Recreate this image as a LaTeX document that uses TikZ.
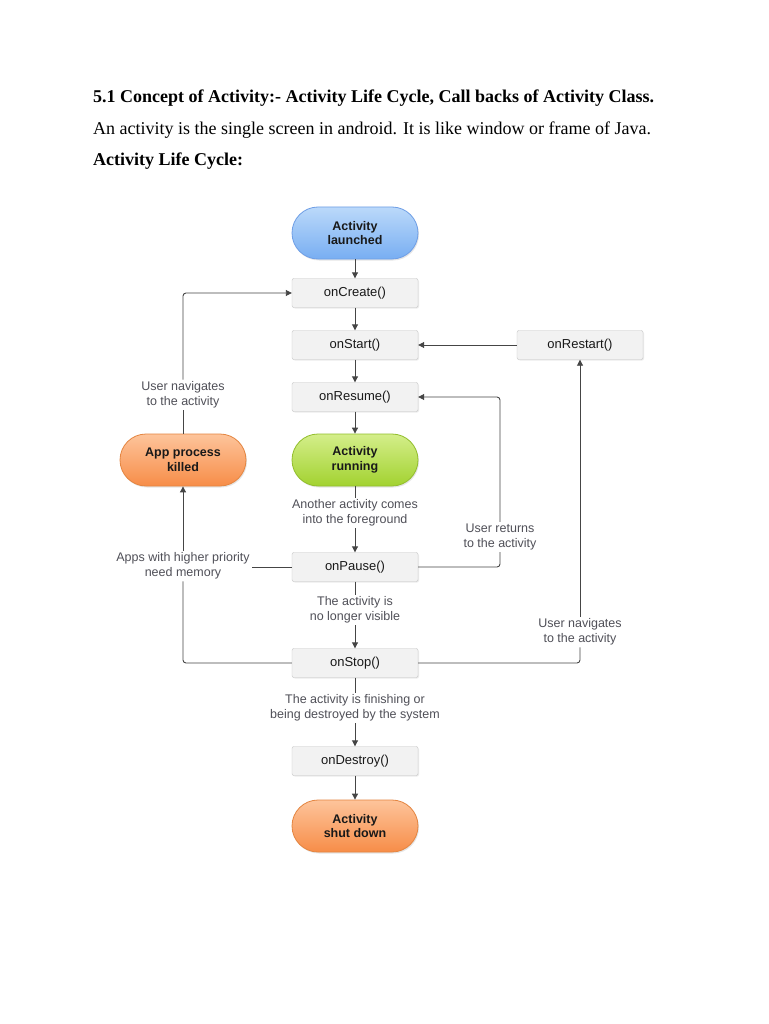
\documentclass[tikz,border=0pt]{standalone}
\usepackage{fontspec}
\setmainfont{Liberation Serif}
\newfontfamily\dfont{Liberation Sans}
\usetikzlibrary{arrows.meta,shadows}
\definecolor{linec}{HTML}{454545}
\definecolor{labc}{HTML}{505058}
\definecolor{boxf}{HTML}{F2F2F2}
\definecolor{boxd}{HTML}{C4C4C4}
\definecolor{blued}{HTML}{6E9EE6}
\definecolor{bluet}{HTML}{BBD9FA}
\definecolor{blueb}{HTML}{78AEF2}
\definecolor{greend}{HTML}{92BE2C}
\definecolor{greent}{HTML}{D4EE8A}
\definecolor{greenb}{HTML}{A2D230}
\definecolor{oranged}{HTML}{E48540}
\definecolor{oranget}{HTML}{FDC49B}
\definecolor{orangeb}{HTML}{F78D48}
\tikzset{
  cb/.style={draw=boxd, fill=boxf, rounded corners=2pt, minimum width=126pt, minimum height=29pt,
    font=\dfont\fontsize{13}{15}\selectfont, text=black!90, inner sep=0pt,
    drop shadow={shadow xshift=1pt, shadow yshift=-1pt, opacity=0.15}},
  pill/.style={rounded corners=26pt, minimum width=126pt, minimum height=52pt, line width=0.8pt,
    font=\dfont\bfseries\fontsize{12.5}{14.5}\selectfont, align=center, text=black!90, inner sep=0pt,
    drop shadow={shadow xshift=1pt, shadow yshift=-1.5pt, opacity=0.2}},
  bluep/.style={pill, draw=blued, top color=bluet, bottom color=blueb},
  greenp/.style={pill, draw=greend, top color=greent, bottom color=greenb},
  orangep/.style={pill, draw=oranged, top color=oranget, bottom color=orangeb},
  lab/.style={font=\dfont\fontsize{12.5}{14.5}\selectfont, text=labc, align=center, inner sep=2pt},
  conn/.style={draw=linec, line width=0.9pt, rounded corners=3pt},
  arr/.style={conn, -{Triangle[length=6pt,width=6pt]}},
  head/.style={anchor=base west, inner sep=0pt, font=\fontsize{18}{21}\selectfont}
}
\begin{document}
\begin{tikzpicture}[x=1pt,y=-1pt]
\useasboundingbox[fill=white] (0,0) rectangle (768,1024);
% heading text
\node[head] (t1) at (93,103) {\bfseries 5.1 Concept of Activity:- Activity Life Cycle, Call backs of Activity Class.};
\node[head] (t2) at (93,135) {An activity is the single screen in android. It is like window or frame of Java.};
\node[head] (t3) at (93,166) {\bfseries Activity Life Cycle:};
% nodes
\node[bluep] (launch) at (355,233) {Activity\\launched};
\node[cb] (create) at (355,293) {onCreate()};
\node[cb] (start) at (355,345) {onStart()};
\node[cb] (restart) at (580,345) {onRestart()};
\node[cb] (resume) at (355,397) {onResume()};
\node[greenp] (running) at (355,460) {Activity\\running};
\node[orangep] (killed) at (183,460) {App process\\killed};
\node[cb] (pause) at (355,567) {onPause()};
\node[cb] (stop) at (355,663) {onStop()};
\node[cb] (destroy) at (355,761) {onDestroy()};
\node[orangep] (shut) at (355,826) {Activity\\shut down};
% labels
\node[lab] (lfore) at (355,513) {Another activity comes\\into the foreground};
\node[lab] (lvis) at (355,610) {The activity is\\no longer visible};
\node[lab] (lfin) at (355,708) {The activity is finishing or\\being destroyed by the system};
\node[lab] (lret) at (500,537) {User returns\\to the activity};
\node[lab] (lnav2) at (580,632) {User navigates\\to the activity};
\node[lab] (lmem) at (183,566) {Apps with higher priority\\need memory};
\node[lab] (lnav1) at (183,395) {User navigates\\to the activity};
% connectors
\draw[arr] (launch) -- (create);
\draw[arr] (create) -- (start);
\draw[arr] (start) -- (resume);
\draw[arr] (resume) -- (running);
\draw[conn] (running) -- (lfore);
\draw[arr] (lfore) -- (pause);
\draw[conn] (pause) -- (lvis);
\draw[arr] (lvis) -- (stop);
\draw[conn] (stop) -- (lfin);
\draw[arr] (lfin) -- (destroy);
\draw[arr] (destroy) -- (shut);
\draw[arr] (restart) -- (start);
\draw[conn] (pause.east) -| (lret.south);
\draw[arr] (lret.north) |- (resume.east);
\draw[conn] (stop.east) -| (lnav2.south);
\draw[arr] (lnav2.north) -- (restart.south);
\draw[conn] (stop.west) -| (lmem.south);
\draw[arr] (lmem.north) -- (killed.south);
\draw[conn] (pause.west) -- (lmem.east |- pause.west);
\draw[conn] (killed.north) -- (lnav1.south);
\draw[arr] (lnav1.north) |- (create.west);
\end{tikzpicture}
\end{document}
